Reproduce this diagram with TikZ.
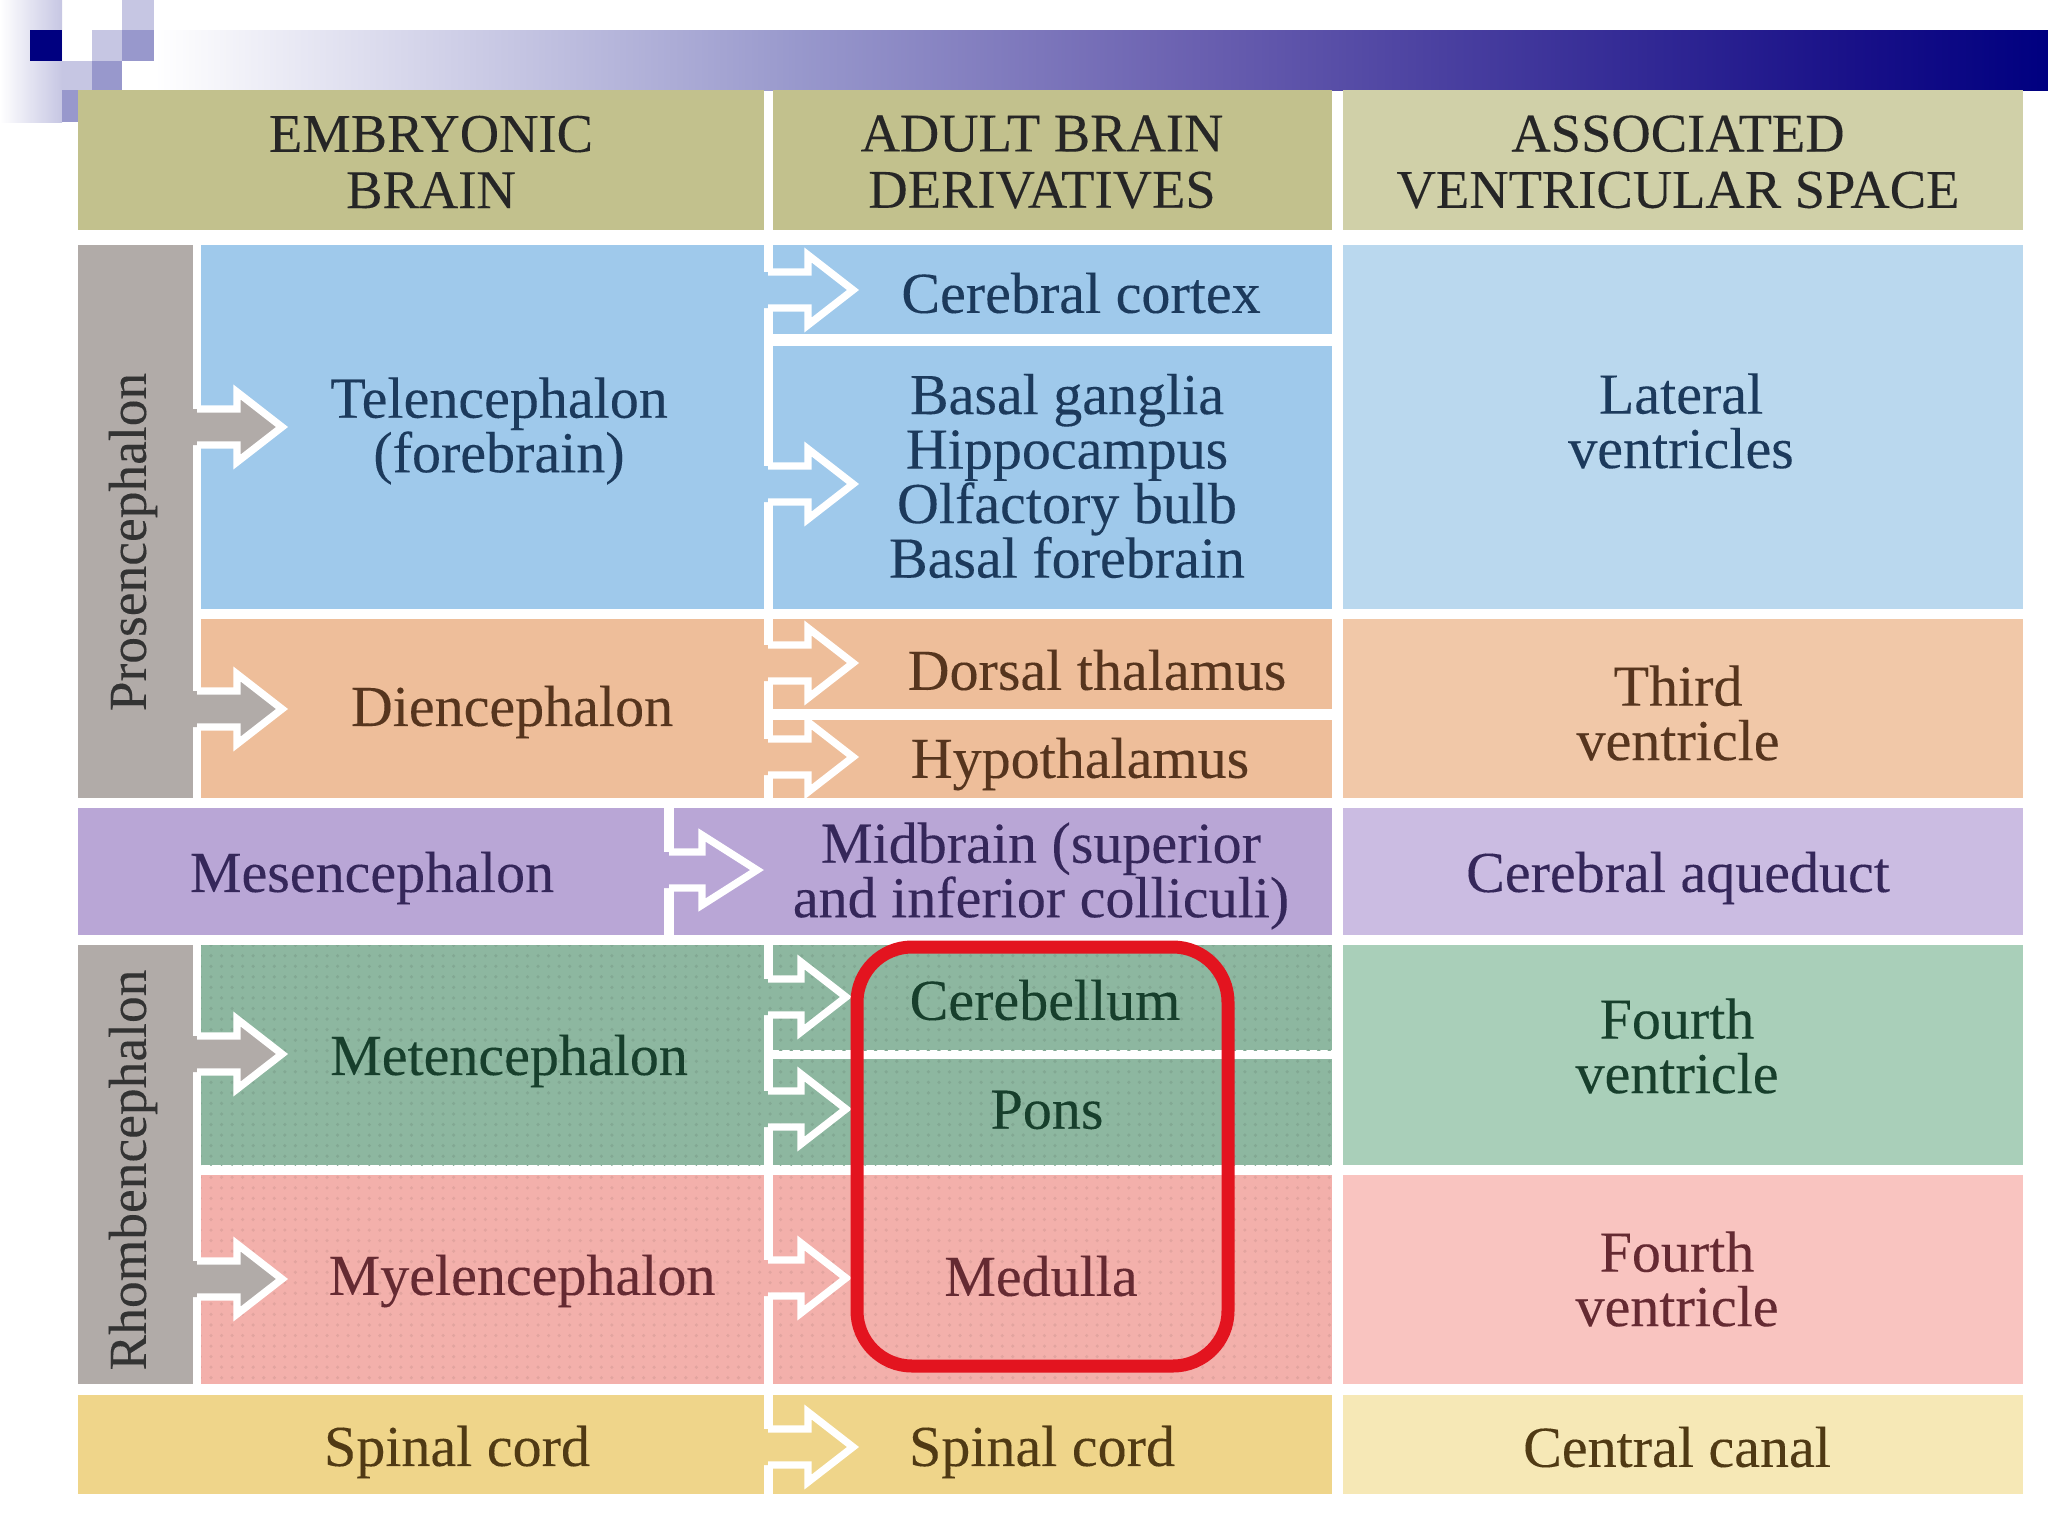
\documentclass[tikz,border=0pt]{standalone}
\usepackage{fontspec}
\setmainfont[FakeBold=0.15]{Liberation Serif}
\usetikzlibrary{calc,patterns}
\definecolor{navyA}{HTML}{000080}
\definecolor{navyB}{HTML}{181088}
\definecolor{lavA}{HTML}{C6C6E3}
\definecolor{lavB}{HTML}{9898CC}
\definecolor{lavC}{HTML}{6A60B0}
\definecolor{lavD}{HTML}{4A40A0}
\definecolor{headA}{HTML}{C2C18D}
\definecolor{headB}{HTML}{D0D0A8}
\definecolor{greyA}{HTML}{B1ABA8}
\definecolor{blueA}{HTML}{9FC9EB}
\definecolor{blueB}{HTML}{BAD8EE}
\definecolor{peachA}{HTML}{EEBE9A}
\definecolor{peachB}{HTML}{F1C8A8}
\definecolor{purpA}{HTML}{B9A6D6}
\definecolor{purpB}{HTML}{CBBCE2}
\definecolor{greenA}{HTML}{8DB7A0}
\definecolor{greenB}{HTML}{A9CFB9}
\definecolor{pinkA}{HTML}{F3B0AB}
\definecolor{pinkB}{HTML}{F9C4C0}
\definecolor{yelA}{HTML}{EFD58A}
\definecolor{yelB}{HTML}{F6E8B6}
\definecolor{redA}{HTML}{E3141F}
\definecolor{txtB}{HTML}{1C3A5C}
\definecolor{txtO}{HTML}{56351E}
\definecolor{txtV}{HTML}{35275A}
\definecolor{txtG}{HTML}{173F2C}
\definecolor{txtR}{HTML}{652A32}
\definecolor{txtY}{HTML}{503A14}
\pgfdeclarehorizontalshading{bannerfade}{100bp}{color(0bp)=(white);color(25bp)=(white);color(42bp)=(lavB);color(52.5bp)=(lavC);color(59bp)=(lavD);color(70bp)=(navyB);color(75bp)=(navyA);color(100bp)=(navyA)}
\tikzset{
	greycell/.style={fill=greyA},
	bluecell/.style={fill=blueA},
	peachcell/.style={fill=peachA},
	purpcell/.style={fill=purpA},
	greencell/.style={fill=greenA,postaction={pattern=dots,pattern color=greenA!92!black}},
	pinkcell/.style={fill=pinkA,postaction={pattern=dots,pattern color=pinkA!93!black}},
	yelcell/.style={fill=yelA},
}
%% open arrow: cell style, start x, centre y, notch x, tip x
\def\BrainArrow[#1](#2,#3,#4,#5){\path[#1] (#2,#3) +(-8,-18) -- +(#4,-18) -- +(#4,-35) -- +(#5,0) -- +(#4,35) -- +(#4,18) -- +(-8,18) -- cycle;%
\draw[white,line width=2.1pt] (#2,#3) +(0,-18) -- +(#4,-18) -- +(#4,-35) -- +(#5,0) -- +(#4,35) -- +(#4,18) -- +(0,18);}
\begin{document}
\begin{tikzpicture}[x=0.01cm,y=-0.01cm]
	\tikzstyle{txt}=[align=center,inner sep=0pt,font=\fontsize{16.5}{15.5}\selectfont];
	\tikzstyle{hdr}=[align=center,inner sep=0pt,text=black!85,font=\fontsize{15.5}{16}\selectfont];
	\tikzstyle{side}=[rotate=90,inner sep=0pt,text=black!80,font=\fontsize{15.2}{16}\selectfont];
	\useasboundingbox (0,0) rectangle (2048,1536);
	%% banner
	\shade[shading=bannerfade] (154,30) rectangle (2048,90);
	\shade[left color=white,right color=lavA] (0,0) rectangle (62,122);
	\fill[navyA] (30,30) rectangle (62,61);
	\fill[lavA] (92,30) rectangle (122,61);
	\fill[lavB] (122,30) rectangle (154,61);
	\fill[lavA] (122,0) rectangle (154,30);
	\fill[lavB] (92,61) rectangle (122,90);
	\fill[lavA] (62,61) rectangle (92,90);
	\fill[lavB] (62,90) rectangle (79,122);
	%% header row
	\fill[headA] (78,90) rectangle (764,230);
	\fill[headA] (773,90) rectangle (1332,230);
	\fill[headB] (1343,90) rectangle (2023,230);
	%% left column
	\path[greycell] (78,245) rectangle (193,798);
	\path[greycell] (78,945) rectangle (193,1384);
	%% embryonic cells
	\path[bluecell] (201,245) rectangle (764,609);
	\path[peachcell] (201,619) rectangle (764,798);
	\path[purpcell] (78,808) rectangle (664,935);
	\path[greencell] (201,945) rectangle (764,1165);
	\path[pinkcell] (201,1175) rectangle (764,1384);
	\path[yelcell] (78,1395) rectangle (764,1494);
	%% adult cells
	\path[bluecell] (773,245) rectangle (1332,334);
	\path[bluecell] (773,346) rectangle (1332,609);
	\path[peachcell] (773,619) rectangle (1332,709);
	\path[peachcell] (773,720) rectangle (1332,798);
	\path[purpcell] (674,808) rectangle (1332,935);
	\path[greencell] (773,945) rectangle (1332,1050);
	\path[greencell] (773,1059) rectangle (1332,1165);
	\path[pinkcell] (773,1175) rectangle (1332,1384);
	\path[yelcell] (773,1395) rectangle (1332,1494);
	%% ventricle cells
	\fill[blueB] (1343,245) rectangle (2023,609);
	\fill[peachB] (1343,619) rectangle (2023,798);
	\fill[purpB] (1343,808) rectangle (2023,935);
	\fill[greenB] (1343,945) rectangle (2023,1165);
	\fill[pinkB] (1343,1175) rectangle (2023,1384);
	\fill[yelB] (1343,1395) rectangle (2023,1494);
	%% arrows
	\BrainArrow[greycell](197,427,40,85);
	\BrainArrow[greycell](197,709,40,85);
	\BrainArrow[greycell](197,1054,40,85);
	\BrainArrow[greycell](197,1279,40,85);
	\BrainArrow[bluecell](768,290,40,85);
	\BrainArrow[bluecell](768,484,40,85);
	\BrainArrow[peachcell](768,663,40,85);
	\BrainArrow[peachcell](768,757,40,85);
	\BrainArrow[purpcell](669,870,33,88);
	\BrainArrow[greencell](768,997,33,78);
	\BrainArrow[greencell](768,1109,33,78);
	\BrainArrow[pinkcell](768,1278,33,78);
	\BrainArrow[yelcell](768,1447,40,85);
	%% header text
	\node[hdr] (EB) at (431,162) {EMBRYONIC\\BRAIN};
	\node[hdr] (AD) at (1042,162) {ADULT BRAIN\\DERIVATIVES};
	\node[hdr] (VS) at (1678,162) {ASSOCIATED\\VENTRICULAR SPACE};
	%% embryonic text
	\node[side] (PR) at (133,542) {Prosencephalon};
	\node[side] (RH) at (133,1170) {Rhombencephalon};
	\node[txt,text=txtB] (TE) at (499,431) {Telencephalon\\(forebrain)};
	\node[txt,text=txtO] (DI) at (512,712) {Diencephalon};
	\node[txt,text=txtV] (ME) at (372,878) {Mesencephalon};
	\node[txt,text=txtG] (MT) at (509,1061) {Metencephalon};
	\node[txt,text=txtR] (MY) at (522,1281) {Myelencephalon};
	\node[txt,text=txtY] (SP) at (457,1452) {Spinal cord};
	%% adult text
	\node[txt,text=txtB] (CO) at (1081,293) {Cerebral cortex};
	\node[txt,text=txtB] (BA) at (1067,476) {Basal ganglia\\Hippocampus\\Olfactory bulb\\Basal forebrain};
	\node[txt,text=txtO] (TH) at (1097,670) {Dorsal thalamus};
	\node[txt,text=txtO] (HY) at (1080,764) {Hypothalamus};
	\node[txt,text=txtV] (MI) at (1041,876) {Midbrain (superior\\and inferior colliculi)};
	\node[txt,text=txtG] (CE) at (1045,1000) {Cerebellum};
	\node[txt,text=txtG] (PO) at (1047,1110) {Pons};
	\node[txt,text=txtR] (MD) at (1041,1276) {Medulla};
	\node[txt,text=txtY] (SC) at (1042,1452) {Spinal cord};
	%% ventricle text
	\node[txt,text=txtB] (LV) at (1681,421) {Lateral\\ventricles};
	\node[txt,text=txtO] (TV) at (1678,713) {Third\\ventricle};
	\node[txt,text=txtV] (AQ) at (1678,878) {Cerebral aqueduct};
	\node[txt,text=txtG] (FA) at (1677,1046) {Fourth\\ventricle};
	\node[txt,text=txtR] (FB) at (1677,1279) {Fourth\\ventricle};
	\node[txt,text=txtY] (CC) at (1677,1447) {Central canal};
	%% highlight
	\draw[redA,line width=3.7pt,rounded corners=0.55cm] (857,947) rectangle (1228,1366);
\end{tikzpicture}
\end{document}
